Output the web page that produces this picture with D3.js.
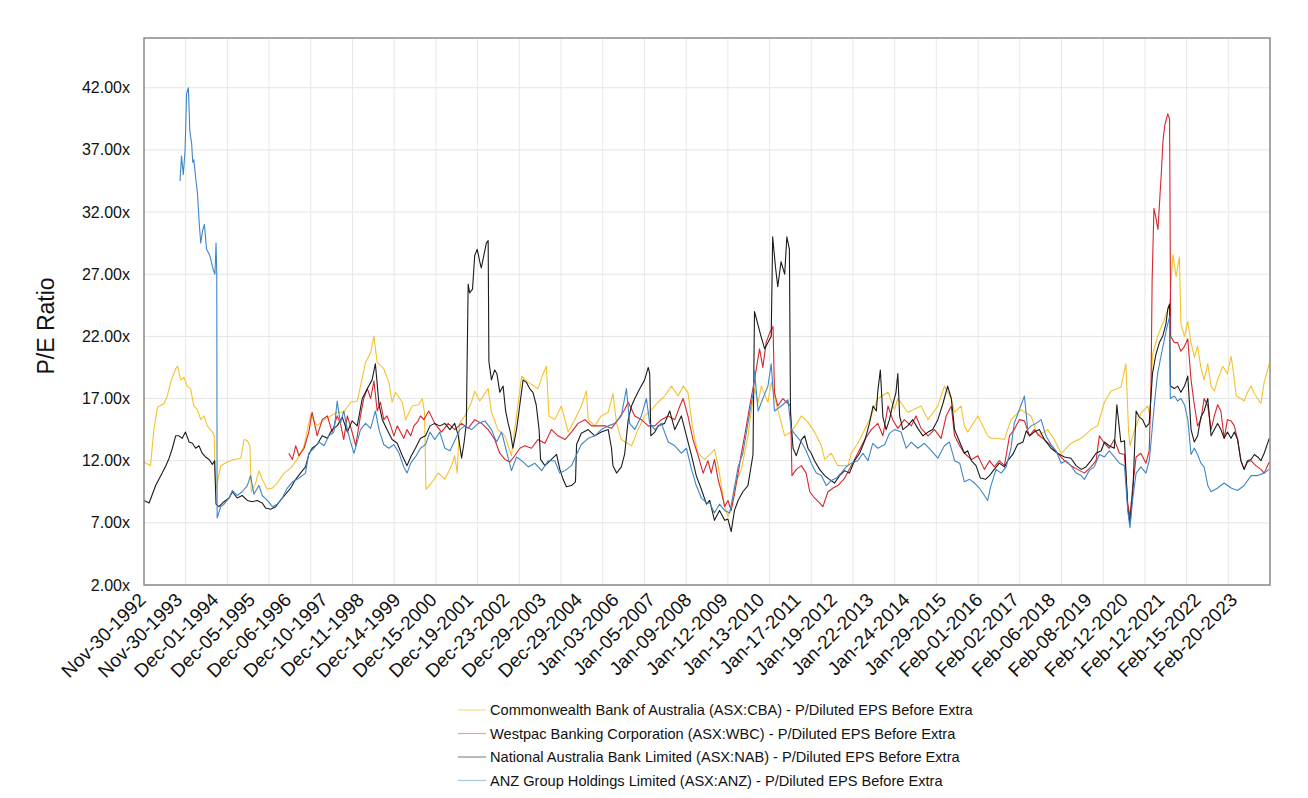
<!DOCTYPE html>
<html>
<head>
<meta charset="utf-8">
<script src="https://cdn.jsdelivr.net/npm/d3@7"></script>
<style>
  body { margin: 0; background: #fff; }
  svg text { font-family: "Liberation Sans", Arial, sans-serif; fill: #111; }
</style>
</head>
<body>
<div id="chart"></div>
<script>
// x = trading-day position in "label years" (one label every 261 trading days from Nov-30-1992)
const tickLabels = ["Nov-30-1992","Nov-30-1993","Dec-01-1994","Dec-05-1995","Dec-06-1996","Dec-10-1997",
  "Dec-11-1998","Dec-14-1999","Dec-15-2000","Dec-19-2001","Dec-23-2002","Dec-29-2003","Dec-29-2004",
  "Jan-03-2006","Jan-05-2007","Jan-09-2008","Jan-12-2009","Jan-13-2010","Jan-17-2011","Jan-19-2012",
  "Jan-22-2013","Jan-24-2014","Jan-29-2015","Feb-01-2016","Feb-02-2017","Feb-06-2018","Feb-08-2019",
  "Feb-12-2020","Feb-12-2021","Feb-15-2022","Feb-20-2023"];

const yTicks = [2, 7, 12, 17, 22, 27, 32, 37, 42];

const seriesNames = [
  "Commonwealth Bank of Australia (ASX:CBA) - P/Diluted EPS Before Extra",
  "Westpac Banking Corporation (ASX:WBC) - P/Diluted EPS Before Extra",
  "National Australia Bank Limited (ASX:NAB) - P/Diluted EPS Before Extra",
  "ANZ Group Holdings Limited (ASX:ANZ) - P/Diluted EPS Before Extra"
];

const cba = [[0,11.9],[0.18,11.6],[0.27,14.5],[0.37,16.3],[0.55,16.6],[0.64,17.2],[0.73,18.3],[0.87,19.4],[0.92,19.6],[1.01,18.5],[1.1,18.7],[1.19,18.0],[1.28,17.8],[1.37,16.4],[1.47,16.1],[1.56,15.3],[1.65,15.6],[1.74,14.8],[1.88,14.3],[1.93,14.0],[1.97,9.6],[2.01,10.2],[2.11,11.6],[2.29,11.9],[2.47,12.1],[2.66,12.2],[2.75,13.7],[2.84,13.6],[2.91,13.2],[2.95,9.5],[3.07,10.2],[3.16,11.2],[3.25,10.5],[3.39,9.7],[3.53,9.8],[3.66,10.2],[3.85,11.0],[4.03,11.4],[4.21,12.1],[4.4,13.2],[4.58,15.7],[4.76,14.8],[4.95,15.3],[5.13,15.6],[5.31,15.9],[5.49,15.9],[5.68,16.7],[5.86,16.8],[5.95,18.0],[6.09,19.9],[6.23,20.7],[6.32,22.0],[6.41,19.9],[6.59,19.4],[6.73,18.3],[6.82,16.7],[6.91,17.5],[7.1,16.7],[7.19,15.3],[7.37,16.4],[7.55,16.5],[7.65,17.0],[7.71,15.9],[7.75,9.7],[7.9,10.2],[8.09,11.0],[8.27,10.5],[8.45,11.6],[8.54,12.4],[8.61,11.0],[8.67,15.0],[8.82,15.6],[9.0,16.7],[9.09,17.6],[9.23,16.8],[9.46,17.8],[9.55,15.9],[9.73,14.5],[9.92,14.0],[10.1,12.4],[10.19,14.5],[10.38,18.8],[10.56,18.3],[10.83,17.8],[10.97,19.0],[11.06,19.6],[11.13,15.6],[11.29,15.3],[11.47,16.4],[11.66,14.3],[11.84,15.3],[12.02,16.4],[12.16,17.6],[12.21,15.3],[12.39,14.8],[12.57,15.6],[12.76,15.9],[12.89,17.4],[12.99,15.0],[13.12,13.7],[13.4,13.2],[13.58,14.5],[13.76,15.6],[13.95,16.1],[14.13,16.7],[14.31,17.2],[14.5,18.0],[14.68,17.2],[14.82,18.0],[14.95,17.5],[15.05,15.3],[15.14,13.7],[15.23,12.6],[15.41,12.1],[15.59,12.6],[15.68,12.9],[15.78,11.6],[15.87,10.0],[15.96,8.3],[16.05,7.5],[16.14,8.3],[16.23,10.0],[16.42,11.3],[16.6,14.0],[16.78,17.8],[16.88,16.7],[16.97,18.0],[17.15,16.7],[17.24,18.3],[17.42,16.1],[17.61,14.0],[17.79,14.3],[17.97,15.1],[18.07,15.6],[18.25,15.1],[18.43,14.3],[18.62,13.2],[18.71,12.1],[18.89,12.6],[19.07,11.6],[19.35,11.6],[19.44,12.6],[19.62,13.4],[19.81,14.5],[19.99,15.6],[20.17,17.0],[20.45,17.5],[20.63,16.1],[20.72,17.0],[20.99,15.9],[21.36,16.4],[21.55,15.3],[21.82,16.4],[22.0,18.0],[22.19,17.0],[22.28,15.9],[22.46,16.4],[22.55,14.8],[22.64,14.3],[22.92,15.6],[23.19,14.0],[23.28,13.8],[23.47,13.8],[23.65,13.7],[23.83,15.3],[24.11,16.1],[24.38,15.6],[24.57,14.0],[24.84,14.5],[25.02,13.7],[25.21,12.6],[25.48,13.4],[25.76,13.8],[26.03,14.5],[26.21,14.8],[26.4,16.7],[26.58,17.6],[26.85,17.9],[26.99,19.8],[27.06,14.5],[27.1,13.2],[27.22,14.4],[27.4,15.8],[27.59,16.4],[27.65,15.6],[27.72,20.5],[27.86,22.0],[28.05,23.4],[28.19,24.5],[28.28,28.6],[28.37,26.8],[28.46,28.4],[28.5,23.0],[28.6,22.0],[28.69,23.2],[28.78,21.5],[28.87,20.3],[28.96,21.2],[29.05,19.5],[29.14,18.5],[29.24,19.8],[29.33,18.0],[29.42,17.6],[29.51,18.5],[29.65,19.6],[29.78,19.0],[29.88,20.4],[29.95,19.0],[30.02,17.2],[30.15,17.0],[30.24,16.8],[30.33,17.5],[30.43,18.0],[30.52,17.4],[30.61,17.0],[30.7,16.6],[30.79,18.3],[30.93,19.8]];

const wbc = [[3.98,12.6],[4.08,12.1],[4.17,13.2],[4.26,12.4],[4.4,13.0],[4.53,14.3],[4.62,15.9],[4.76,14.0],[4.9,15.3],[5.04,15.6],[5.17,14.3],[5.31,15.6],[5.4,15.0],[5.49,13.7],[5.59,15.6],[5.72,14.3],[5.82,13.2],[5.95,15.6],[6.04,17.0],[6.14,17.8],[6.23,17.0],[6.32,18.4],[6.41,16.0],[6.5,16.7],[6.59,15.3],[6.68,15.6],[6.78,14.8],[6.87,14.0],[6.96,14.8],[7.05,14.3],[7.14,13.8],[7.23,14.5],[7.33,14.0],[7.42,14.8],[7.51,15.1],[7.6,15.6],[7.69,15.3],[7.83,16.0],[7.99,15.0],[8.18,14.3],[8.36,15.0],[8.54,14.5],[8.73,15.0],[8.91,14.6],[9.09,15.3],[9.28,15.0],[9.46,14.5],[9.64,13.7],[9.78,12.6],[9.92,12.1],[10.06,11.9],[10.19,12.4],[10.33,13.0],[10.47,13.2],[10.65,13.0],[10.83,13.7],[11.02,13.4],[11.2,14.5],[11.38,14.0],[11.57,13.7],[11.75,14.3],[11.93,15.0],[12.12,15.3],[12.3,14.8],[12.48,14.8],[12.67,14.8],[12.85,14.6],[13.03,15.3],[13.21,16.1],[13.31,16.7],[13.49,15.6],[13.67,15.3],[13.86,14.8],[14.04,14.8],[14.22,15.3],[14.41,15.6],[14.59,15.3],[14.73,16.4],[14.82,17.0],[14.95,15.6],[15.09,13.7],[15.23,12.4],[15.37,11.0],[15.5,12.0],[15.59,11.0],[15.68,12.1],[15.78,10.5],[15.87,9.5],[15.96,8.3],[16.05,8.8],[16.14,8.0],[16.23,9.3],[16.33,11.0],[16.42,12.6],[16.51,14.0],[16.65,16.4],[16.78,18.5],[16.92,21.0],[17.01,19.5],[17.1,21.5],[17.2,22.3],[17.29,22.8],[17.33,17.5],[17.42,16.4],[17.56,17.0],[17.7,16.6],[17.77,16.4],[17.81,10.8],[17.93,11.3],[18.07,11.6],[18.2,11.0],[18.3,9.5],[18.43,9.0],[18.57,8.6],[18.66,8.3],[18.8,9.5],[18.94,9.8],[19.07,10.0],[19.26,10.6],[19.44,11.6],[19.62,12.6],[19.81,13.7],[19.99,14.5],[20.17,15.0],[20.31,14.0],[20.45,16.4],[20.58,15.3],[20.72,14.6],[20.9,15.3],[21.09,14.8],[21.22,15.6],[21.36,14.6],[21.55,14.0],[21.73,14.5],[21.91,13.8],[22.05,15.6],[22.19,16.4],[22.28,14.0],[22.42,13.2],[22.55,12.6],[22.74,12.1],[22.92,12.4],[23.1,11.3],[23.24,12.0],[23.37,11.5],[23.51,12.0],[23.65,11.6],[23.79,14.0],[23.92,14.5],[24.06,15.3],[24.2,15.2],[24.34,14.0],[24.47,14.5],[24.61,14.0],[24.75,13.7],[24.93,13.2],[25.11,12.6],[25.3,12.0],[25.48,11.6],[25.66,11.3],[25.85,11.0],[26.03,11.5],[26.17,12.0],[26.26,14.0],[26.4,13.4],[26.53,13.0],[26.67,13.7],[26.81,12.6],[26.95,12.5],[27.04,8.5],[27.1,7.5],[27.18,10.0],[27.27,12.3],[27.4,12.6],[27.54,11.8],[27.63,12.8],[27.68,18.0],[27.71,26.5],[27.76,32.3],[27.81,31.6],[27.87,30.6],[27.96,35.0],[28.01,37.8],[28.06,39.0],[28.14,39.9],[28.19,39.5],[28.22,22.0],[28.32,21.5],[28.41,21.5],[28.5,20.8],[28.6,21.2],[28.69,21.8],[28.78,18.5],[28.87,16.5],[28.96,14.8],[29.05,15.3],[29.14,17.0],[29.24,16.4],[29.33,14.5],[29.42,15.6],[29.51,16.5],[29.6,16.0],[29.69,13.8],[29.78,15.3],[29.88,15.2],[29.97,14.8],[30.06,13.7],[30.15,12.0],[30.24,11.3],[30.33,11.9],[30.43,12.0],[30.56,11.6],[30.7,11.3],[30.79,11.0],[30.93,11.9]];

const nab = [[0,8.8],[0.14,8.6],[0.23,9.3],[0.32,10.0],[0.41,10.5],[0.5,11.0],[0.6,11.6],[0.69,12.2],[0.78,13.0],[0.87,14.0],[0.96,14.0],[1.05,13.8],[1.14,14.3],[1.24,13.5],[1.33,13.4],[1.42,13.0],[1.51,13.2],[1.6,12.6],[1.69,12.3],[1.79,12.1],[1.88,11.7],[1.94,12.0],[1.98,8.5],[2.06,8.3],[2.2,8.7],[2.34,9.0],[2.43,9.5],[2.56,9.0],[2.7,9.2],[2.84,8.8],[2.98,8.7],[3.11,8.8],[3.25,8.6],[3.34,8.2],[3.48,8.1],[3.62,8.3],[3.75,8.8],[3.89,9.3],[4.03,9.8],[4.17,10.5],[4.3,11.0],[4.44,11.5],[4.53,12.5],[4.62,13.0],[4.76,13.3],[4.9,14.0],[5.04,13.8],[5.17,14.5],[5.31,14.8],[5.45,15.5],[5.59,14.3],[5.72,15.2],[5.86,14.8],[6.0,17.0],[6.14,17.8],[6.27,18.5],[6.36,19.8],[6.46,16.5],[6.55,15.3],[6.68,14.5],[6.82,13.7],[6.96,13.4],[7.1,12.4],[7.23,11.6],[7.33,12.3],[7.46,13.0],[7.6,13.8],[7.74,14.0],[7.86,14.8],[7.99,15.0],[8.13,14.8],[8.27,15.0],[8.41,14.5],[8.54,15.0],[8.64,14.0],[8.73,12.2],[8.8,13.5],[8.86,15.0],[8.91,26.2],[8.95,25.5],[9.03,25.8],[9.09,28.5],[9.16,29.0],[9.23,28.0],[9.27,27.5],[9.34,28.5],[9.41,29.5],[9.46,29.7],[9.48,20.0],[9.55,18.5],[9.64,19.3],[9.7,19.0],[9.78,17.5],[9.87,18.0],[9.94,16.0],[10.01,15.0],[10.07,14.3],[10.14,13.0],[10.24,14.5],[10.33,16.5],[10.42,18.5],[10.51,18.3],[10.6,17.8],[10.69,17.5],[10.78,16.5],[10.86,14.5],[10.9,12.1],[11.02,11.6],[11.2,12.1],[11.34,12.5],[11.43,11.3],[11.52,10.5],[11.61,9.9],[11.75,10.0],[11.86,10.3],[11.89,13.3],[12.02,14.2],[12.21,14.5],[12.39,14.0],[12.57,14.3],[12.76,14.5],[12.85,13.0],[12.89,11.6],[12.99,11.0],[13.12,11.5],[13.21,12.5],[13.31,15.3],[13.4,16.4],[13.49,17.0],[13.63,17.8],[13.76,18.5],[13.86,19.5],[13.9,19.0],[13.93,14.0],[14.04,14.3],[14.13,14.8],[14.31,15.0],[14.45,16.0],[14.59,14.5],[14.77,15.6],[14.91,14.0],[15.05,12.4],[15.18,10.8],[15.32,9.7],[15.46,8.5],[15.55,8.8],[15.68,7.2],[15.82,8.0],[15.96,7.2],[16.05,7.3],[16.14,6.3],[16.23,8.0],[16.33,8.8],[16.46,9.5],[16.6,10.0],[16.74,12.5],[16.78,24.0],[16.87,23.0],[16.96,22.0],[17.06,21.0],[17.15,21.5],[17.24,22.0],[17.28,30.0],[17.36,27.5],[17.42,26.0],[17.51,28.0],[17.61,27.0],[17.67,30.0],[17.74,29.0],[17.77,15.8],[17.84,13.0],[17.93,12.4],[18.07,13.7],[18.16,14.0],[18.25,13.0],[18.34,12.6],[18.43,12.0],[18.57,11.3],[18.71,10.8],[18.84,10.5],[18.98,10.2],[19.12,10.8],[19.26,11.2],[19.39,11.0],[19.53,12.0],[19.67,12.6],[19.81,13.6],[19.94,15.0],[20.04,16.4],[20.13,16.0],[20.17,17.6],[20.24,19.3],[20.31,15.5],[20.4,14.5],[20.49,15.3],[20.58,16.5],[20.67,17.5],[20.72,19.0],[20.77,15.6],[20.86,14.5],[20.99,14.8],[21.13,15.3],[21.27,14.6],[21.41,14.0],[21.55,14.3],[21.68,14.5],[21.82,15.3],[21.96,16.6],[22.09,18.0],[22.19,17.0],[22.28,14.5],[22.42,13.5],[22.55,12.6],[22.64,12.8],[22.74,12.0],[22.87,11.6],[22.99,10.6],[23.13,10.5],[23.24,10.8],[23.37,11.3],[23.51,11.8],[23.65,11.5],[23.74,12.0],[23.88,12.5],[24.01,13.3],[24.16,13.5],[24.25,14.4],[24.34,14.0],[24.47,14.3],[24.61,14.5],[24.75,13.7],[24.93,13.0],[25.11,12.6],[25.3,12.3],[25.48,12.2],[25.62,11.6],[25.76,11.3],[25.89,11.5],[26.03,12.0],[26.17,12.6],[26.31,12.8],[26.4,13.5],[26.53,13.2],[26.67,13.0],[26.74,16.5],[26.85,13.5],[26.95,13.6],[27.04,8.2],[27.1,7.0],[27.18,9.5],[27.27,16.0],[27.36,15.5],[27.45,15.3],[27.54,14.7],[27.63,15.0],[27.72,19.0],[27.81,20.5],[27.91,21.5],[28.0,22.0],[28.09,23.0],[28.14,24.2],[28.19,24.6],[28.21,18.0],[28.32,17.8],[28.41,18.0],[28.5,17.5],[28.6,18.0],[28.69,18.8],[28.78,14.5],[28.87,13.5],[28.96,14.0],[29.05,15.5],[29.14,16.0],[29.24,17.0],[29.33,14.0],[29.42,14.5],[29.51,15.0],[29.6,14.5],[29.69,13.8],[29.78,14.3],[29.88,13.8],[29.97,14.3],[30.06,13.7],[30.15,12.0],[30.24,11.3],[30.33,12.0],[30.43,12.1],[30.52,12.5],[30.61,12.3],[30.7,12.0],[30.79,12.6],[30.93,13.8]];

const anz = [[0.99,34.5],[1.03,36.5],[1.08,35.0],[1.13,37.0],[1.17,41.5],[1.22,42.0],[1.26,38.5],[1.31,37.5],[1.34,36.0],[1.37,36.2],[1.43,34.5],[1.47,33.5],[1.52,31.0],[1.56,29.5],[1.61,30.5],[1.66,31.0],[1.72,29.0],[1.81,28.5],[1.89,27.5],[1.95,27.0],[1.98,29.5],[2.0,27.0],[2.01,7.4],[2.11,8.3],[2.2,8.5],[2.34,9.0],[2.43,9.6],[2.56,9.2],[2.7,9.5],[2.84,10.0],[2.93,10.8],[3.02,9.3],[3.16,10.0],[3.25,9.2],[3.39,8.8],[3.53,8.3],[3.66,8.5],[3.8,9.0],[3.94,9.8],[4.08,10.3],[4.21,10.5],[4.35,10.8],[4.44,11.0],[4.53,12.6],[4.67,13.0],[4.81,13.5],[4.95,13.2],[5.08,14.0],[5.22,14.3],[5.31,16.8],[5.4,15.0],[5.49,16.0],[5.59,14.5],[5.68,13.5],[5.77,12.6],[5.86,13.5],[5.95,14.5],[6.09,15.0],[6.23,14.6],[6.36,16.0],[6.46,14.5],[6.59,13.3],[6.73,13.0],[6.87,13.3],[7.01,12.6],[7.14,11.5],[7.23,11.0],[7.33,11.8],[7.46,12.3],[7.6,13.0],[7.74,13.3],[7.86,14.3],[7.99,13.7],[8.13,14.3],[8.27,13.0],[8.41,12.8],[8.54,13.6],[8.68,14.5],[8.82,14.8],[9.0,14.5],[9.19,15.0],[9.37,15.2],[9.55,14.5],[9.69,13.5],[9.83,14.3],[9.96,12.8],[10.1,11.2],[10.24,12.3],[10.38,12.0],[10.56,11.5],[10.74,11.8],[10.93,11.2],[11.11,12.0],[11.29,12.0],[11.43,11.0],[11.57,11.2],[11.75,11.6],[11.89,12.5],[12.02,13.3],[12.21,13.8],[12.39,14.0],[12.57,14.5],[12.76,14.8],[12.94,15.0],[13.12,15.6],[13.26,17.8],[13.35,15.0],[13.49,14.5],[13.67,15.6],[13.81,17.0],[13.9,15.0],[14.04,14.5],[14.22,15.0],[14.41,13.5],[14.59,13.2],[14.77,12.6],[14.91,13.0],[15.05,11.3],[15.18,10.0],[15.32,9.0],[15.46,8.6],[15.55,8.6],[15.68,7.8],[15.82,8.5],[15.96,8.0],[16.1,7.8],[16.23,9.8],[16.33,11.5],[16.46,12.6],[16.6,15.0],[16.74,17.4],[16.78,19.2],[16.88,16.0],[17.01,17.0],[17.15,18.0],[17.24,19.8],[17.33,16.0],[17.42,16.2],[17.56,16.5],[17.7,16.9],[17.79,14.5],[17.93,14.0],[18.07,13.5],[18.2,12.8],[18.34,11.8],[18.48,11.0],[18.62,10.8],[18.75,10.0],[18.89,10.4],[19.03,10.6],[19.16,11.0],[19.3,11.5],[19.44,11.8],[19.62,12.0],[19.76,12.6],[19.9,12.0],[20.03,13.4],[20.17,13.0],[20.36,13.3],[20.49,14.2],[20.63,14.5],[20.81,14.3],[20.95,13.0],[21.09,13.5],[21.27,13.0],[21.45,13.4],[21.64,12.8],[21.82,12.2],[22.0,13.2],[22.14,13.5],[22.28,12.0],[22.42,11.8],[22.55,10.3],[22.69,10.5],[22.83,10.2],[22.96,9.8],[23.1,9.2],[23.19,8.8],[23.28,10.0],[23.42,11.3],[23.56,11.0],[23.7,11.5],[23.83,13.0],[23.92,15.0],[24.02,15.8],[24.11,16.5],[24.2,17.2],[24.29,14.5],[24.38,14.8],[24.52,15.0],[24.66,15.3],[24.79,14.0],[24.93,13.3],[25.07,12.8],[25.21,11.8],[25.34,12.0],[25.48,11.6],[25.62,11.0],[25.76,10.8],[25.85,10.5],[25.98,11.2],[26.12,11.5],[26.26,12.5],[26.4,12.3],[26.53,12.8],[26.67,12.3],[26.81,11.8],[26.95,11.6],[27.04,8.0],[27.1,6.6],[27.18,9.0],[27.27,11.0],[27.4,11.5],[27.54,11.0],[27.63,12.0],[27.68,13.5],[27.77,16.5],[27.86,19.0],[27.96,20.5],[28.1,22.5],[28.19,23.6],[28.21,17.0],[28.32,17.2],[28.41,16.8],[28.5,17.0],[28.6,16.5],[28.69,15.3],[28.78,12.5],[28.87,13.0],[28.96,12.5],[29.05,11.8],[29.14,11.5],[29.24,10.0],[29.33,9.5],[29.51,9.8],[29.69,10.2],[29.88,9.8],[30.06,9.6],[30.24,10.0],[30.43,10.8],[30.61,10.8],[30.79,11.0],[30.93,11.3]];

const seriesColors = ["#f5c22b", "#d6262e", "#1c1c1c", "#3f86c8"];
const legendColors = ["#f9dc8c", "#eaa0a3", "#8c8c8c", "#a9c8e6"];

class LineChart {
  constructor(_config, _series) {
    this.config = {
      parentElement: _config.parentElement,
      containerWidth: _config.containerWidth || 1308,
      containerHeight: _config.containerHeight || 798,
      margin: _config.margin || {top: 38, right: 38, bottom: 213, left: 144}
    };
    this.series = _series;
    this.initVis();
    this.renderVis();
  }

  initVis() {
    let vis = this;
    vis.width = vis.config.containerWidth - vis.config.margin.left - vis.config.margin.right;
    vis.height = vis.config.containerHeight - vis.config.margin.top - vis.config.margin.bottom;

    vis.root = d3.select(vis.config.parentElement)
      .append("svg")
      .attr("width", vis.config.containerWidth)
      .attr("height", vis.config.containerHeight);

    vis.svg = vis.root.append("g")
      .attr("transform", `translate(${vis.config.margin.left},${vis.config.margin.top})`);

    vis.xScale = d3.scaleLinear().domain([0, 30.95]).range([0, vis.width]);
    vis.yScale = d3.scaleLinear().domain([2, 46]).range([vis.height, 0]);

    // horizontal grid
    vis.svg.append("g")
      .selectAll("line")
      .data(yTicks)
      .join("line")
      .attr("x1", 0).attr("x2", vis.width)
      .attr("y1", d => vis.yScale(d)).attr("y2", d => vis.yScale(d))
      .attr("stroke", "#e4e4e4").attr("stroke-width", 1);

    // vertical grid, 27 equal divisions
    vis.svg.append("g")
      .selectAll("line")
      .data(d3.range(1, 27))
      .join("line")
      .attr("x1", d => vis.width * d / 27).attr("x2", d => vis.width * d / 27)
      .attr("y1", 0).attr("y2", vis.height)
      .attr("stroke", "#e8e8e8").attr("stroke-width", 1);

    // y tick labels
    vis.svg.append("g")
      .selectAll("text")
      .data(yTicks)
      .join("text")
      .attr("x", -14)
      .attr("y", d => vis.yScale(d))
      .attr("dy", "0.35em")
      .attr("text-anchor", "end")
      .attr("font-size", 16)
      .text(d => d3.format(".2f")(d) + "x");

    // x tick labels
    vis.svg.append("g")
      .selectAll("text")
      .data(tickLabels)
      .join("text")
      .attr("text-anchor", "end")
      .attr("font-size", 19)
      .attr("transform", (d, i) => `translate(${vis.xScale(i) + 3},${vis.height + 16}) rotate(-45)`)
      .text(d => d);

    vis.root.append("text")
      .attr("text-anchor", "middle")
      .attr("font-size", 23)
      .attr("transform", "translate(54,326) rotate(-90)")
      .text("P/E Ratio");
  }

  renderVis() {
    let vis = this;
    const line = d3.line()
      .x(d => vis.xScale(d[0]))
      .y(d => vis.yScale(d[1]));

    vis.svg.append("g")
      .selectAll("path")
      .data(vis.series)
      .join("path")
      .attr("fill", "none")
      .attr("stroke", (d, i) => seriesColors[i])
      .attr("stroke-width", 1.1)
      .attr("stroke-linejoin", "round")
      .attr("d", d => line(d));

    // plot border
    vis.svg.append("rect")
      .attr("width", vis.width).attr("height", vis.height)
      .attr("fill", "none").attr("stroke", "#8a8a8a").attr("stroke-width", 1.5);

    // legend
    const legend = vis.root.append("g").attr("transform", "translate(458,710)");
    const rows = legend.selectAll("g")
      .data(seriesNames)
      .join("g")
      .attr("transform", (d, i) => `translate(0,${i * 23.5})`);
    rows.append("line")
      .attr("x1", 0).attr("x2", 28)
      .attr("stroke", (d, i) => legendColors[i]).attr("stroke-width", 1.2);
    rows.append("text")
      .attr("x", 32).attr("dy", "0.35em")
      .attr("font-size", 14.6)
      .text(d => d);
  }
}

new LineChart({parentElement: "#chart"}, [cba, wbc, nab, anz]);
</script>
</body>
</html>
